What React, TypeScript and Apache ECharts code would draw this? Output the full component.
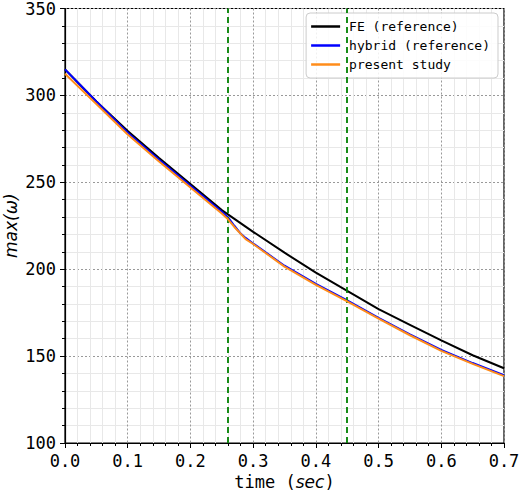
import React, { useEffect, useRef } from 'react';
import * as echarts from 'echarts';

// FE (reference)
const timeFE = [0, 0.05, 0.1, 0.15, 0.2, 0.25, 0.3, 0.35, 0.4, 0.45, 0.5, 0.55, 0.6, 0.65, 0.7];
const maxFE = [315, 296.5, 279.5, 264, 249, 234, 221.5, 209.5, 198, 187.5, 177, 168, 159, 150.5, 143];

// hybrid (reference)
const timeHybrid = [0, 0.05, 0.1, 0.15, 0.2, 0.25, 0.26, 0.27, 0.28, 0.288, 0.3, 0.35, 0.4, 0.45, 0.5, 0.55, 0.6, 0.65, 0.7];
const maxHybrid = [315, 296.5, 278.5, 263, 248, 233, 229.8, 225, 220.5, 218, 214.8, 202, 191.5, 182, 172, 162.5, 153.5, 146, 139];

// present study
const timePresent = [0, 0.05, 0.1, 0.15, 0.2, 0.25, 0.26, 0.27, 0.288, 0.3, 0.35, 0.4, 0.45, 0.5, 0.55, 0.6, 0.65, 0.7];
const maxPresent = [312.5, 295, 277.5, 262, 247, 232, 228.7, 224.3, 217.3, 214.5, 201.5, 191, 181.5, 171.5, 162, 153, 145.5, 138.5];

const markTimes = [0.26, 0.45];

const mono = 'DejaVu Sans Mono';

const pairs = (xs: number[], ys: number[]) => xs.map((x, i) => [x, ys[i]]);

const App: React.FC = () => {
  const chartRef = useRef<HTMLDivElement>(null);

  useEffect(() => {
    document.body.style.margin = '0';
    if (!chartRef.current) return;
    const chart = echarts.init(chartRef.current, undefined, { renderer: 'svg' });

    const option = {
      animation: false,
      grid: {
        left: 65,
        right: 16,
        top: 8.5,
        bottom: 49,
        outerBoundsMode: 'none',
        containLabel: false,
        show: true,
        borderColor: '#000',
        borderWidth: 1.2,
      },
      legend: {
        orient: 'vertical',
        right: 22,
        top: 13,
        icon: 'rect',
        itemWidth: 29,
        itemHeight: 2.5,
        itemGap: 6,
        padding: [7, 8, 7, 5],
        borderColor: '#ccc',
        borderWidth: 1,
        borderRadius: 4,
        backgroundColor: 'rgba(255,255,255,0.85)',
        formatter: (name: string) => `{a|${name}}`,
        textStyle: {
          fontFamily: mono,
          fontSize: 13,
          color: '#000',
          lineHeight: 13,
          rich: { a: { fontFamily: mono, fontSize: 13, color: '#000', padding: [0, 0, 0, 4] } },
        },
        data: ['FE (reference)', 'hybrid (reference)', 'present study'],
      },
      xAxis: {
        type: 'value',
        min: 0,
        max: 0.7,
        interval: 0.1,
        name: 'time ({i|sec})',
        nameLocation: 'middle',
        nameGap: 29,
        nameTextStyle: {
          fontFamily: mono,
          fontSize: 17,
          color: '#000',
          rich: { i: { fontFamily: 'DejaVu Sans', fontStyle: 'italic', fontSize: 17, color: '#000' } },
        },
        axisLine: { lineStyle: { color: '#000', width: 1.2 } },
        axisTick: { length: 5, lineStyle: { color: '#000' } },
        minorTick: { show: true, splitNumber: 5, length: 3, lineStyle: { color: '#000' } },
        axisLabel: {
          fontFamily: mono,
          fontSize: 17,
          color: '#000',
          margin: 9,
          formatter: (v: number) => v.toFixed(1),
        },
        splitLine: { show: true, lineStyle: { color: '#999', type: [2, 2], width: 1 } },
        minorSplitLine: { show: true, lineStyle: { color: '#e8e8e8', width: 1 } },
      },
      yAxis: {
        type: 'value',
        min: 100,
        max: 350,
        interval: 50,
        name: 'max(ω)',
        nameLocation: 'middle',
        nameGap: 46,
        nameMoveOverlap: false,
        nameTextStyle: {
          fontFamily: 'DejaVu Sans',
          fontStyle: 'italic',
          fontSize: 17,
          lineHeight: 17,
          color: '#000',
        },
        axisLine: { lineStyle: { color: '#000', width: 1.2 } },
        axisTick: { length: 5, lineStyle: { color: '#000' } },
        minorTick: { show: true, splitNumber: 5, length: 3, lineStyle: { color: '#000' } },
        axisLabel: { fontFamily: mono, fontSize: 17, color: '#000', margin: 9 },
        splitLine: { show: true, lineStyle: { color: '#999', type: [2, 2], width: 1 } },
        minorSplitLine: { show: true, lineStyle: { color: '#e8e8e8', width: 1 } },
      },
      series: [
        {
          name: 'FE (reference)',
          type: 'line',
          symbol: 'none',
          data: pairs(timeFE, maxFE),
          lineStyle: { color: '#000', width: 2 },
          itemStyle: { color: '#000' },
          z: 3,
          markLine: {
            silent: true,
            symbol: 'none',
            label: { show: false },
            lineStyle: { color: '#008000', type: [6, 4], width: 1.8 },
            data: markTimes.map((t) => ({ xAxis: t })),
          },
        },
        {
          name: 'hybrid (reference)',
          type: 'line',
          symbol: 'none',
          data: pairs(timeHybrid, maxHybrid),
          lineStyle: { color: '#0000ff', width: 2 },
          itemStyle: { color: '#0000ff' },
          z: 4,
        },
        {
          name: 'present study',
          type: 'line',
          symbol: 'none',
          data: pairs(timePresent, maxPresent),
          lineStyle: { color: '#ff8c1a', width: 2 },
          itemStyle: { color: '#ff8c1a' },
          z: 5,
        },
      ],
    };

    chart.setOption(option);

    return () => {
      chart.dispose();
    };
  }, []);

  return <div ref={chartRef} style={{ width: '520px', height: '492px' }} />;
};

export default App;
